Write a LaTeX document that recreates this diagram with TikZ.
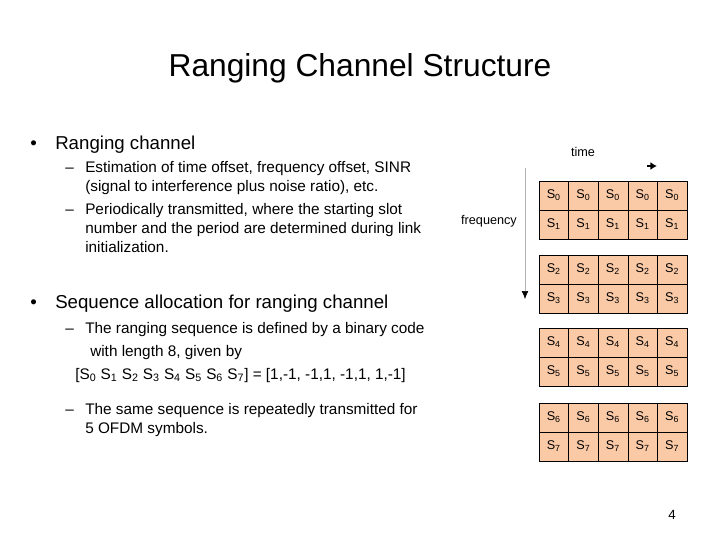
\documentclass[tikz,border=0pt]{standalone}
\usepackage{fontspec}
\usetikzlibrary{arrows.meta}
\setmainfont{Liberation Sans}
\begin{document}
\begin{tikzpicture}[x=0.75pt,y=-0.75pt,
  txt/.style={anchor=base west,inner sep=0pt,font=\fontsize{11.5}{14}\selectfont},
  big/.style={anchor=base west,inner sep=0pt,font=\fontsize{14}{17}\selectfont},
  cell/.style={draw=black,fill=cellc,minimum width=29.6*0.75pt,minimum height=29*0.75pt,inner sep=0pt,font=\fontsize{9.5}{10}\selectfont}]
\definecolor{cellc}{RGB}{250,201,166}
\useasboundingbox (0,0) rectangle (720,540);
\node[inner sep=0pt,font=\fontsize{23.8}{28}\selectfont] (title) at (360,68) {Ranging Channel Structure};
\node[big] (b1) at (30,149) {•};
\node[big] (t1) at (55,149) {Ranging channel};
\node[txt] (d1) at (65,172) {–};
\node[txt] (t11) at (85,172) {Estimation of time offset, frequency offset, SINR};
\node[txt] (t11b) at (85,191) {(signal to interference plus noise ratio), etc.};
\node[txt] (d2) at (65,214) {–};
\node[txt] (t12) at (85,214) {Periodically transmitted, where the starting slot};
\node[txt] (t12b) at (85,233) {number and the period are determined during link};
\node[txt] (t12c) at (85,252) {initialization.};
\node[big] (b2) at (30,308) {•};
\node[big] (t2) at (55,308) {Sequence allocation for ranging channel};
\node[txt] (d3) at (65,333) {–};
\node[txt] (t21) at (85,333) {The ranging sequence is defined by a binary code};
\node[txt] (t22) at (90,356) {with length 8, given by};
\node[txt] (t23) at (75,379) {[S\textsubscript{0} S\textsubscript{1} S\textsubscript{2} S\textsubscript{3} S\textsubscript{4} S\textsubscript{5} S\textsubscript{6} S\textsubscript{7}] = [1,-1, -1,1, -1,1, 1,-1]};
\node[txt] (d4) at (65,414) {–};
\node[txt] (t24) at (85,414) {The same sequence is repeatedly transmitted for};
\node[txt] (t24b) at (85,433) {5 OFDM symbols.};
\node[inner sep=0pt,font=\fontsize{9.5}{11}\selectfont] (time) at (583,152) {time};
\node[inner sep=0pt,font=\fontsize{9.5}{11}\selectfont] (freq) at (489,221) {frequency};
\coordinate (ta) at (647,166);
\coordinate (tb) at (657,166);
\draw[line width=1.5pt,-{Latex[length=5pt,width=6pt]}] (ta) -- (tb);
\coordinate (fa) at (525,168);
\coordinate (fb) at (525,299);
\draw[gray!60,-{Latex[black,length=6pt,width=5pt]}] (fa) -- (fb);
\foreach \blk/\yy/\a/\b in {1/181/0/1,2/255/2/3,3/328/4/5,4/403/6/7}{
  \foreach \c in {0,...,4}{
    \node[cell] (c\blk-\c-a) at ({539+14.8+29.6*\c},{\yy+14.5}) {S\textsubscript{\a}};
    \node[cell] (c\blk-\c-b) at ({539+14.8+29.6*\c},{\yy+43.5}) {S\textsubscript{\b}};
  }
}
\node[inner sep=0pt,font=\fontsize{10}{12}\selectfont] (pg) at (672,515) {4};
\end{tikzpicture}
\end{document}
